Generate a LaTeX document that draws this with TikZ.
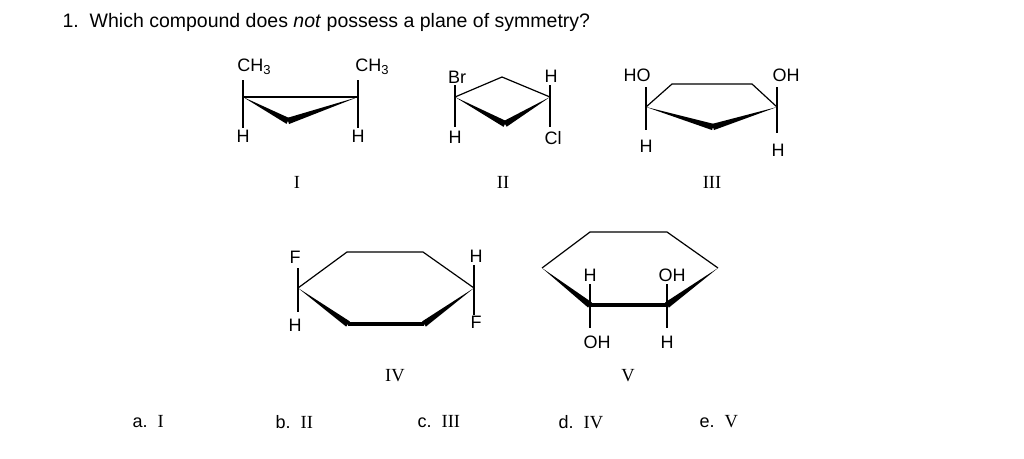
\documentclass[tikz,border=0pt]{standalone}
\usepackage{fontspec}
\setmainfont{Liberation Sans}
\newfontfamily\tms{Liberation Serif}
\usetikzlibrary{calc}
\newcommand\wdg[2]{\fill (#1) -- ($(#2)!3.2pt!90:(#1)$) -- ($(#2)!3.2pt!-90:(#1)$) -- cycle;}
\newcommand\chthree{CH\raisebox{-3.5pt}{\fontsize{13}{13}\selectfont 3}}
\begin{document}
\begin{tikzpicture}[x=1pt,y=-1pt,line width=1.2pt,
  lab/.style={font=\fontsize{18}{18}\selectfont,inner sep=0pt},
  rom/.style={font=\fontsize{18.5}{18.5}\selectfont\tms,inner sep=0pt}]
\useasboundingbox (0,0) rectangle (1024,458);
\node[lab,anchor=west,font=\fontsize{19.5}{19.5}\selectfont] (t) at (62,22) {1.\ \ Which compound does \textit{not} possess a plane of symmetry?};
% I
\coordinate (a1) at (243,97); \coordinate (a2) at (358,97); \coordinate (a3) at (288,121);
\draw (a1)--(a2); \wdg{a1}{a3}\wdg{a2}{a3}
\draw (243,80)--(243,128) (358,80)--(358,128);
\node[lab] (ia) at (254,67) {\chthree}; \node[lab] (ib) at (372,67) {\chthree};
\node[lab] (ic) at (243,136) {H}; \node[lab] (id) at (358,136) {H};
% II
\coordinate (b1) at (455,97); \coordinate (b2) at (502,77); \coordinate (b3) at (550,97); \coordinate (b4) at (505,124);
\draw (b1)--(b2)--(b3); \wdg{b1}{b4}\wdg{b3}{b4}
\draw (455,85)--(455,127) (550,85)--(550,127);
\node[lab] (iia) at (457,77) {Br}; \node[lab] (iib) at (455,137) {H};
\node[lab] (iic) at (551,76) {H}; \node[lab] (iid) at (553,138) {Cl};
% III
\coordinate (c1) at (646,107); \coordinate (c2) at (672,84); \coordinate (c3) at (752,84); \coordinate (c4) at (777,107); \coordinate (c5) at (713,127);
\draw (c1)--(c2)--(c3)--(c4); \wdg{c1}{c5}\wdg{c4}{c5}
\draw (646,87)--(646,130) (777,87)--(777,133);
\node[lab] (iiia) at (637,75) {HO}; \node[lab] (iiib) at (646,146) {H};
\node[lab] (iiic) at (786,75) {OH}; \node[lab] (iiid) at (778,150) {H};
% IV
\coordinate (d1) at (298,288); \coordinate (d2) at (347,252); \coordinate (d3) at (423,252); \coordinate (d4) at (474,288); \coordinate (d5) at (424,324); \coordinate (d6) at (348,324);
\draw (d1)--(d2)--(d3)--(d4); \wdg{d1}{d6}\wdg{d4}{d5}
\draw[line width=3.5pt] (d6)--(d5);
\draw (298,268)--(298,312) (474,265)--(474,315);
\node[lab] (iva) at (295,257) {F}; \node[lab] (ivb) at (295,325) {H};
\node[lab] (ivc) at (476,256) {H}; \node[lab] (ivd) at (476,322) {F};
% V
\coordinate (e1) at (542,268); \coordinate (e2) at (590,232); \coordinate (e3) at (667,232); \coordinate (e4) at (718,268); \coordinate (e5) at (667,305); \coordinate (e6) at (590,305);
\draw (e1)--(e2)--(e3)--(e4); \wdg{e1}{e6}\wdg{e4}{e5}
\draw[line width=3.5pt] (e6)--(e5);
\draw (590,284)--(590,328) (667,284)--(667,328);
\node[lab] (va) at (590,275) {H}; \node[lab] (vb) at (597,342) {OH};
\node[lab] (vc) at (672,275) {OH}; \node[lab] (vd) at (667,342) {H};
% roman labels
\node[rom] (r1) at (297,182) {I}; \node[rom] (r2) at (503,182) {II}; \node[rom] (r3) at (712,182) {III};
\node[rom] (r4) at (395,376) {IV}; \node[rom] (r5) at (628,376) {V};
% answers
\foreach \x/\l/\r/\n in {132/a./I/an1,275/b./II/an2,417/c./III/an3,558/d./IV/an4,699/e./V/an5}
  \node[lab,anchor=west] (\n) at (\x,422) {\l\ \ {\tms\fontsize{18.5}{18.5}\selectfont\r}};
\end{tikzpicture}
\end{document}
